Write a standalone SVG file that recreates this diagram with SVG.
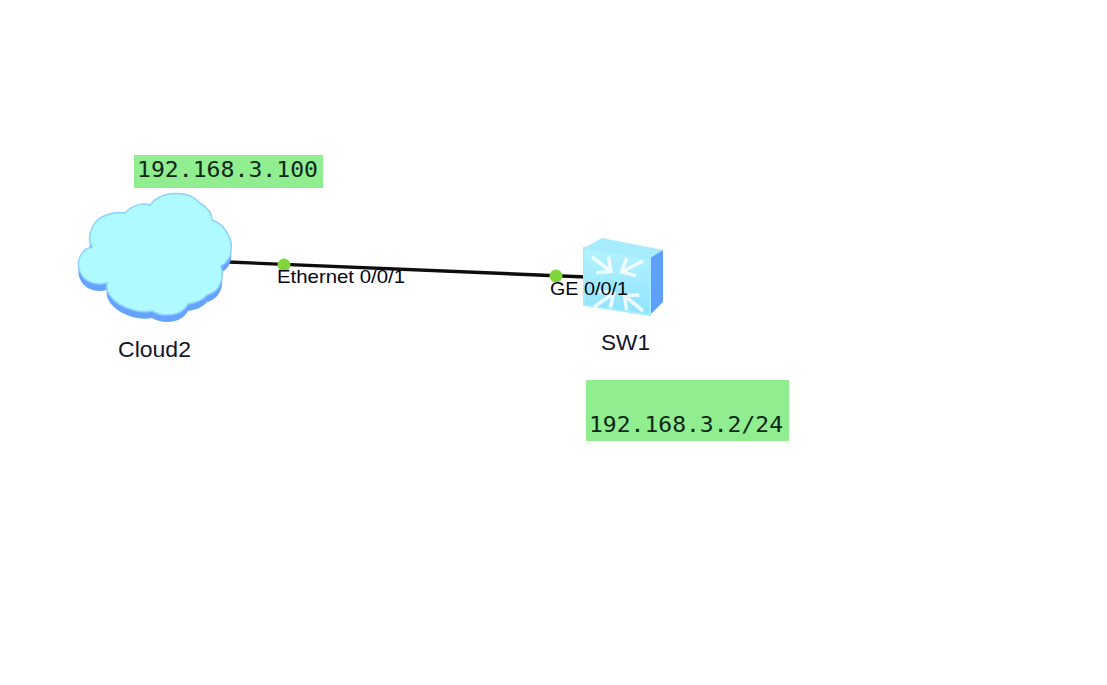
<svg xmlns="http://www.w3.org/2000/svg" width="1107" height="685" viewBox="0 0 1107 685">
<defs>
<path id="cloud" d="M125 213 C133 204 143 203 150 205 C160 191 188 189 200 203 C208 208 212 214 212 220 C224 224 233 238 231 250 C231 258 226 263 221 266 C225 280 219 292 207 295 C202 301 195 303 188 304 C182 316 164 318 152 311 C140 314 120 308 111 297 C107 292 106 287 107 283 C96 286 84 282 80 272 C75 260 82 249 92 247 C87 240 90 222 104 216 C111 213 118 212 125 213 Z"/>
<path id="arrow" d="M0 0 L24 0 M13 -10 L24 0 L13 10" fill="none" stroke="#ffffff" stroke-opacity="0.8" stroke-width="3.6"/>
<linearGradient id="face" x1="0" y1="0" x2="0" y2="1">
<stop offset="0" stop-color="#b4f3ff"/>
<stop offset="1" stop-color="#8fe2ff"/>
</linearGradient>
<filter id="soft" x="-5%" y="-5%" width="110%" height="110%"><feGaussianBlur stdDeviation="0.6"/></filter>
</defs>
<style>
.lbl{font-family:"Liberation Sans",Arial,sans-serif;font-size:21.5px;fill:#14142a}
.port{font-family:"Liberation Sans",Arial,sans-serif;font-size:19px;fill:#05050f}
.ip{font-family:"DejaVu Sans Mono","Liberation Mono",monospace;font-size:20.5px;fill:#102818}
.tag{fill:#90ee90}
.dot{fill:#7fd63c}
.link{stroke:#0d0d0d;stroke-width:3.4;fill:none}
</style>
<rect width="1107" height="685" fill="#ffffff"/>
<g id="connectors">
<line class="link" x1="228" y1="262" x2="586" y2="277"/>
</g>
<g id="Cloud2">
<g filter="url(#soft)">
<use href="#cloud" y="7" fill="#66a3ff"/>
<use href="#cloud" fill="#aefaff" stroke="#8fd0ff" stroke-width="1.5"/>
</g>
<text class="lbl" x="118" y="357" textLength="73" lengthAdjust="spacingAndGlyphs">Cloud2</text>
</g>
<g id="SW1">
<g filter="url(#soft)">
<polygon points="584,248 602,238 663,250 650,258" fill="#a6ecfd"/>
<polygon points="650,258 663,250 663,302 650,315" fill="#5f9fff"/>
<polygon points="584,248 650,258 650,315 584,305" fill="url(#face)" stroke="#a6ecfd" stroke-width="2"/>
<use href="#arrow" transform="translate(592,257) rotate(37)"/>
<use href="#arrow" transform="translate(643,261) rotate(153)"/>
<use href="#arrow" transform="translate(594,307) rotate(-35)"/>
<use href="#arrow" transform="translate(643,311) rotate(-140)"/>
</g>
<text class="lbl" x="601" y="350" textLength="49" lengthAdjust="spacingAndGlyphs">SW1</text>
</g>
<g id="port-ethernet">
<circle class="dot" cx="284" cy="265" r="6.5"/>
<text class="port" x="277" y="283" textLength="128" lengthAdjust="spacingAndGlyphs">Ethernet 0/0/1</text>
</g>
<g id="port-ge">
<circle class="dot" cx="556" cy="276" r="6.5"/>
<text class="port" x="550" y="295" textLength="78" lengthAdjust="spacingAndGlyphs">GE 0/0/1</text>
</g>
<g id="label-cloud-ip">
<rect class="tag" x="134" y="155" width="189" height="33"/>
<text class="ip" x="137" y="177" textLength="181" lengthAdjust="spacingAndGlyphs">192.168.3.100</text>
</g>
<g id="label-sw-ip">
<rect class="tag" x="586" y="380" width="203" height="61"/>
<text class="ip" x="589" y="432" textLength="194" lengthAdjust="spacingAndGlyphs">192.168.3.2/24</text>
</g>
</svg>
